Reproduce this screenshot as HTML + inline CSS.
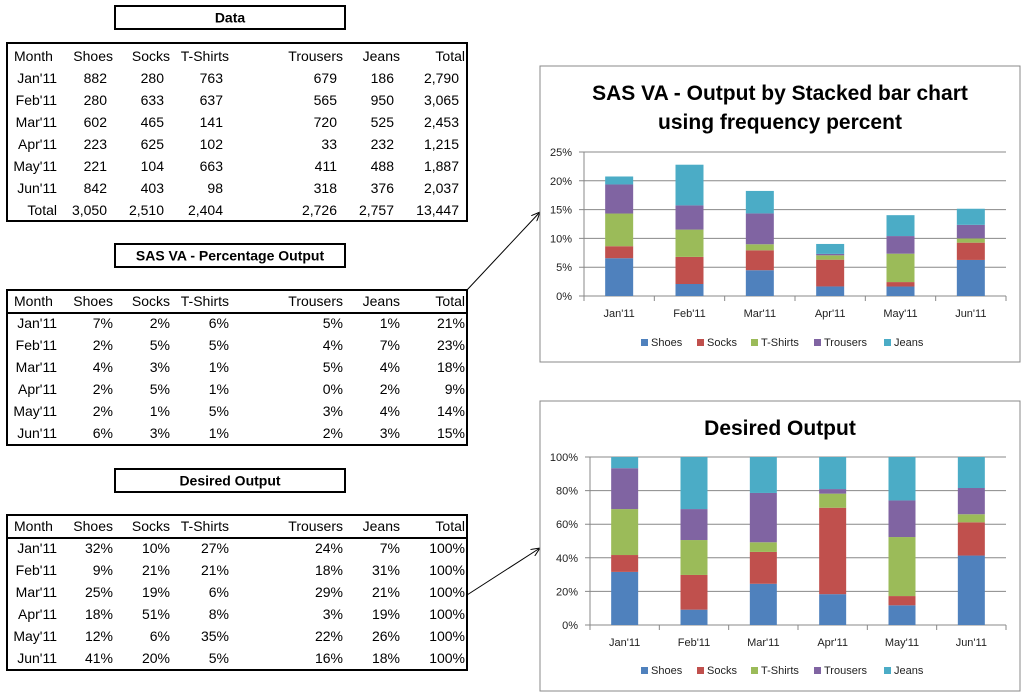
<!DOCTYPE html>
<html><head><meta charset="utf-8"><style>
body{margin:0;background:#fff;}
svg{display:block;font-family:"Liberation Sans",sans-serif;}
</style></head><body>
<svg id="s" width="1026" height="696" viewBox="0 0 1026 696">
<defs><marker id="ah" markerWidth="10" markerHeight="8" refX="9" refY="4" orient="auto"><path d="M0,0 L9,4 L0,8" fill="none" stroke="#000" stroke-width="1"/></marker></defs>
<g id="tables"></g>
<line x1="467" y1="290" x2="540" y2="212" stroke="#000" stroke-width="1" marker-end="url(#ah)"/>
<line x1="467" y1="595" x2="540" y2="548" stroke="#000" stroke-width="1" marker-end="url(#ah)"/>
<g id="c1"></g><g id="c2"></g>
</svg>
<script>
const months=["Jan'11","Feb'11","Mar'11","Apr'11","May'11","Jun'11"];
const seriesNames=["Shoes","Socks","T-Shirts","Trousers","Jeans"];
const colors=["#4f81bd","#c0504d","#9bbb59","#8064a2","#4bacc6"];
const shoes=[882,280,602,223,221,842];
const socks=[280,633,465,625,104,403];
const tshirts=[763,637,141,102,663,98];
const trousers=[679,565,720,33,411,318];
const jeans=[186,950,525,232,488,376];
const ticks1=[0,5,10,15,20,25];
const ticks2=[0,20,40,60,80,100];
const series=[shoes,socks,tshirts,trousers,jeans];
const NS="http://www.w3.org/2000/svg";
function el(p,tag,a,txt){const e=document.createElementNS(NS,tag);for(const k in a)e.setAttribute(k,a[k]);if(txt!==undefined)e.textContent=txt;p.appendChild(e);return e;}
const fmt=n=>n.toLocaleString('en-US');
const rowTot=months.map((m,i)=>series.reduce((s,a)=>s+a[i],0));
const grand=rowTot.reduce((a,b)=>a+b,0);
const colX=[null,113,170,229,343,400,465];
const T=document.getElementById('tables');
function titleBox(y,h,txt,name){
  const g=el(T,'g',{});
  
  
  el(g,'rect',{x:115,y:y,width:230,height:h,fill:'#fff',stroke:'#000','stroke-width':2});
  el(g,'text',{x:230,y:y+h/2+5,'text-anchor':'middle','font-size':14,'font-weight':'bold'},txt);
}
function table(top,bottom,sepY,rows0,rows,name,valOff){
  const g=el(T,'g',{});
  
  
  el(g,'rect',{x:7,y:top,width:460,height:bottom-top,fill:'#fff',stroke:'#000','stroke-width':2});
  if(sepY) el(g,'line',{x1:7,x2:467,y1:sepY,y2:sepY,stroke:'#000','stroke-width':2});
  const hdr=["Month"].concat(seriesNames,["Total"]);
  hdr.forEach((h,j)=>{
    if(j==0) el(g,'text',{x:14,y:rows0+5,'font-size':14},h);
    else el(g,'text',{x:colX[j],y:rows0+5,'font-size':14,'text-anchor':'end'},h);
  });
  rows.forEach((r,i)=>{
    const y=rows0+(i+1)*22+5;
    r.forEach((v,j)=>{
      if(j==0) el(g,'text',{x:57,y:y,'font-size':14,'text-anchor':'end'},v);
      else el(g,'text',{x:colX[j]-valOff,y:y,'font-size':14,'text-anchor':'end'},v);
    });
  });
}
titleBox(6,23,'Data','data-title');
const dataRows=months.map((m,i)=>[m].concat(series.map(a=>fmt(a[i])),[fmt(rowTot[i])]));
dataRows.push(['Total'].concat(series.map(a=>fmt(a.reduce((x,y)=>x+y,0))),[fmt(grand)]));
table(43,221,null,56,dataRows,'data-table',6);
titleBox(244,23,'SAS VA - Percentage Output','percentage-title');
const pRows=months.map((m,i)=>[m].concat(series.map(a=>Math.round(a[i]/grand*100)+'%'),[Math.round(rowTot[i]/grand*100)+'%']));
table(290,445,313,301,pRows,'percentage-table',0);
titleBox(469,23,'Desired Output','desired-title');
const dRows=months.map((m,i)=>[m].concat(series.map(a=>Math.round(a[i]/rowTot[i]*100)+'%'),['100%']));
table(515,670,538,526,dRows,'desired-table',0);

function chart(gid,box,title,plot,ticks,getVal,labY,legY,bw,name){
  const G=document.getElementById(gid);
  
  
  el(G,'rect',{x:box[0],y:box[1],width:box[2],height:box[3],fill:'#fff',stroke:'#888','stroke-width':1});
  title.forEach((t,i)=>{const tt=el(G,'text',{x:780,y:t[1],'text-anchor':'middle','font-size':21,'font-weight':'bold'},t[0]);
    });
  const [x0,x1,yTop,yBot]=plot, max=ticks[ticks.length-1];
  const yS=v=>yBot-(v/max)*(yBot-yTop);
  const cw=(x1-x0)/months.length, xC=i=>x0+cw*(i+0.5);
  ticks.forEach(t=>{
    el(G,'line',{x1:x0-5,x2:x1,y1:yS(t),y2:yS(t),stroke:'#888','stroke-width':1});
    const tl=el(G,'text',{x:x0-12,y:yS(t)+4,'text-anchor':'end','font-size':11,fill:'#222'},t+'%');
    
  });
  el(G,'line',{x1:x0,x2:x0,y1:yTop,y2:yBot,stroke:'#888'});
  for(let i=0;i<=months.length;i++) el(G,'line',{x1:x0+cw*i,x2:x0+cw*i,y1:yBot,y2:yBot+5,stroke:'#888'});
  months.forEach((m,i)=>{
    let acc=0;
    series.forEach((a,k)=>{
      const v=getVal(a,i);
      const r=el(G,'rect',{x:xC(i)-bw/2,y:yS(acc+v),width:bw,height:yS(acc)-yS(acc+v),fill:colors[k]});
      
      
      acc+=v;
    });
    const l=el(G,'text',{x:xC(i),y:labY,'text-anchor':'middle','font-size':11,fill:'#222'},m);
    
  });
  const lx=[641,697,751,814,884];
  seriesNames.forEach((s,k)=>{
    const g=el(G,'g',{});
    
    
    el(g,'rect',{x:lx[k],y:legY-7,width:7,height:7,fill:colors[k]});
    el(g,'text',{x:lx[k]+10,y:legY,'font-size':11,fill:'#222'},s);
  });
}
chart('c1',[540,66,480,296],[["SAS VA - Output by Stacked bar chart",100],["using frequency percent",129]],[584,1006,152,296],ticks1,(a,i)=>a[i]/grand*100,317,346,28,'sas-stacked-chart');
chart('c2',[540,401,480,290],[["Desired Output",435]],[590,1006,457,625],ticks2,(a,i)=>a[i]/rowTot[i]*100,646,674,27,'desired-stacked-chart');
</script>
</body></html>
